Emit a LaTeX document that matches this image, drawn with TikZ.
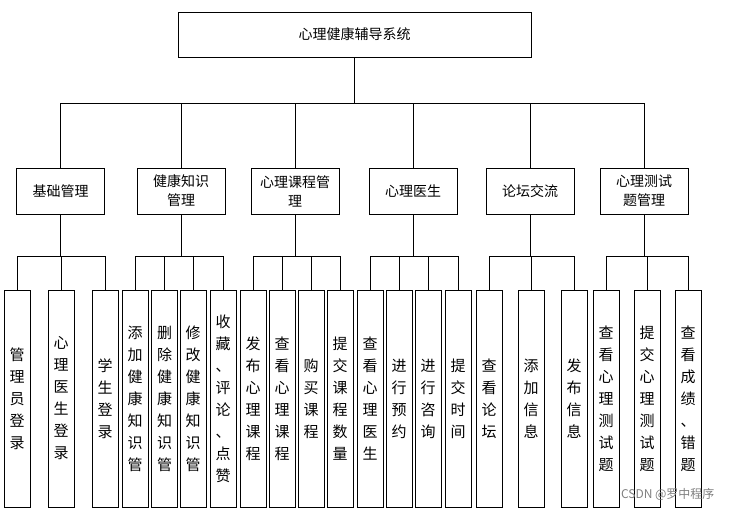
\documentclass[tikz,border=0pt]{standalone}
\usepackage{fontspec}
\newfontfamily\cjk{Noto Sans CJK SC}
\usetikzlibrary{positioning}

\begin{document}
\begin{tikzpicture}[
    x=1pt, y=-1pt,
    box/.style={draw, thick, inner sep=0pt, align=center,
        font=\cjk\fontsize{14}{19}\selectfont},
    group/.style={box, minimum width=88pt, minimum height=46pt},
    leaf/.style={box, minimum width=26pt, minimum height=217pt,
        font=\cjk\fontsize{15}{22}\selectfont},
    link/.style={thick},
]
    \useasboundingbox (0,0) rectangle (731,512);

    \node[box, minimum width=353pt, minimum height=45pt] (top) at (354.5,34.5) {心理健康辅导系统};
    \coordinate (t) at (354.5,103);
    \draw[link] (top.south) -- (t);

    % second level
    \foreach \name/\x/\txt in {g1/60.5/基础管理, g2/181/健康知识\\管理, g3/295/心理课程管\\理,
                               g4/413/心理医生, g5/530/论坛交流, g6/644/心理测试\\题管理} {
        \node[group] (\name) at (\x,191) {\txt};
        \draw[link] (\name.north) |- (t);
        \coordinate (\name b) at (\x,256);
        \draw[link] (\name.south) -- (\name b);
    }

    % leaves
    \foreach \name/\g/\x/\txt in {
        l11/g1/17/管\\理\\员\\登\\录,
        l12/g1/61/心\\理\\医\\生\\登\\录,
        l13/g1/105/学\\生\\登\\录,
        l21/g2/135/添\\加\\健\\康\\知\\识\\管,
        l22/g2/164.5/删\\除\\健\\康\\知\\识\\管,
        l23/g2/193/修\\改\\健\\康\\知\\识\\管,
        l24/g2/223/收\\藏\\、\\评\\论\\、\\点\\赞,
        l31/g3/253/发\\布\\心\\理\\课\\程,
        l32/g3/282/查\\看\\心\\理\\课\\程,
        l33/g3/311/购\\买\\课\\程,
        l34/g3/340/提\\交\\课\\程\\数\\量,
        l41/g4/370/查\\看\\心\\理\\医\\生,
        l42/g4/399/进\\行\\预\\约,
        l43/g4/428/进\\行\\咨\\询,
        l44/g4/458/提\\交\\时\\间,
        l51/g5/489/查\\看\\论\\坛,
        l52/g5/531/添\\加\\信\\息,
        l53/g5/574/发\\布\\信\\息,
        l61/g6/606/查\\看\\心\\理\\测\\试\\题,
        l62/g6/647/提\\交\\心\\理\\测\\试\\题,
        l63/g6/688/查\\看\\成\\绩\\、\\错\\题} {
        \node[leaf] (\name) at (\x,398.5) {\txt};
        \draw[link] (\name.north) |- (\g b);
    }

    \node[font=\cjk\fontsize{12}{14}\selectfont, text=gray, anchor=east] (mark) at (718,494) {CSDN @罗中程序};
\end{tikzpicture}
\end{document}
